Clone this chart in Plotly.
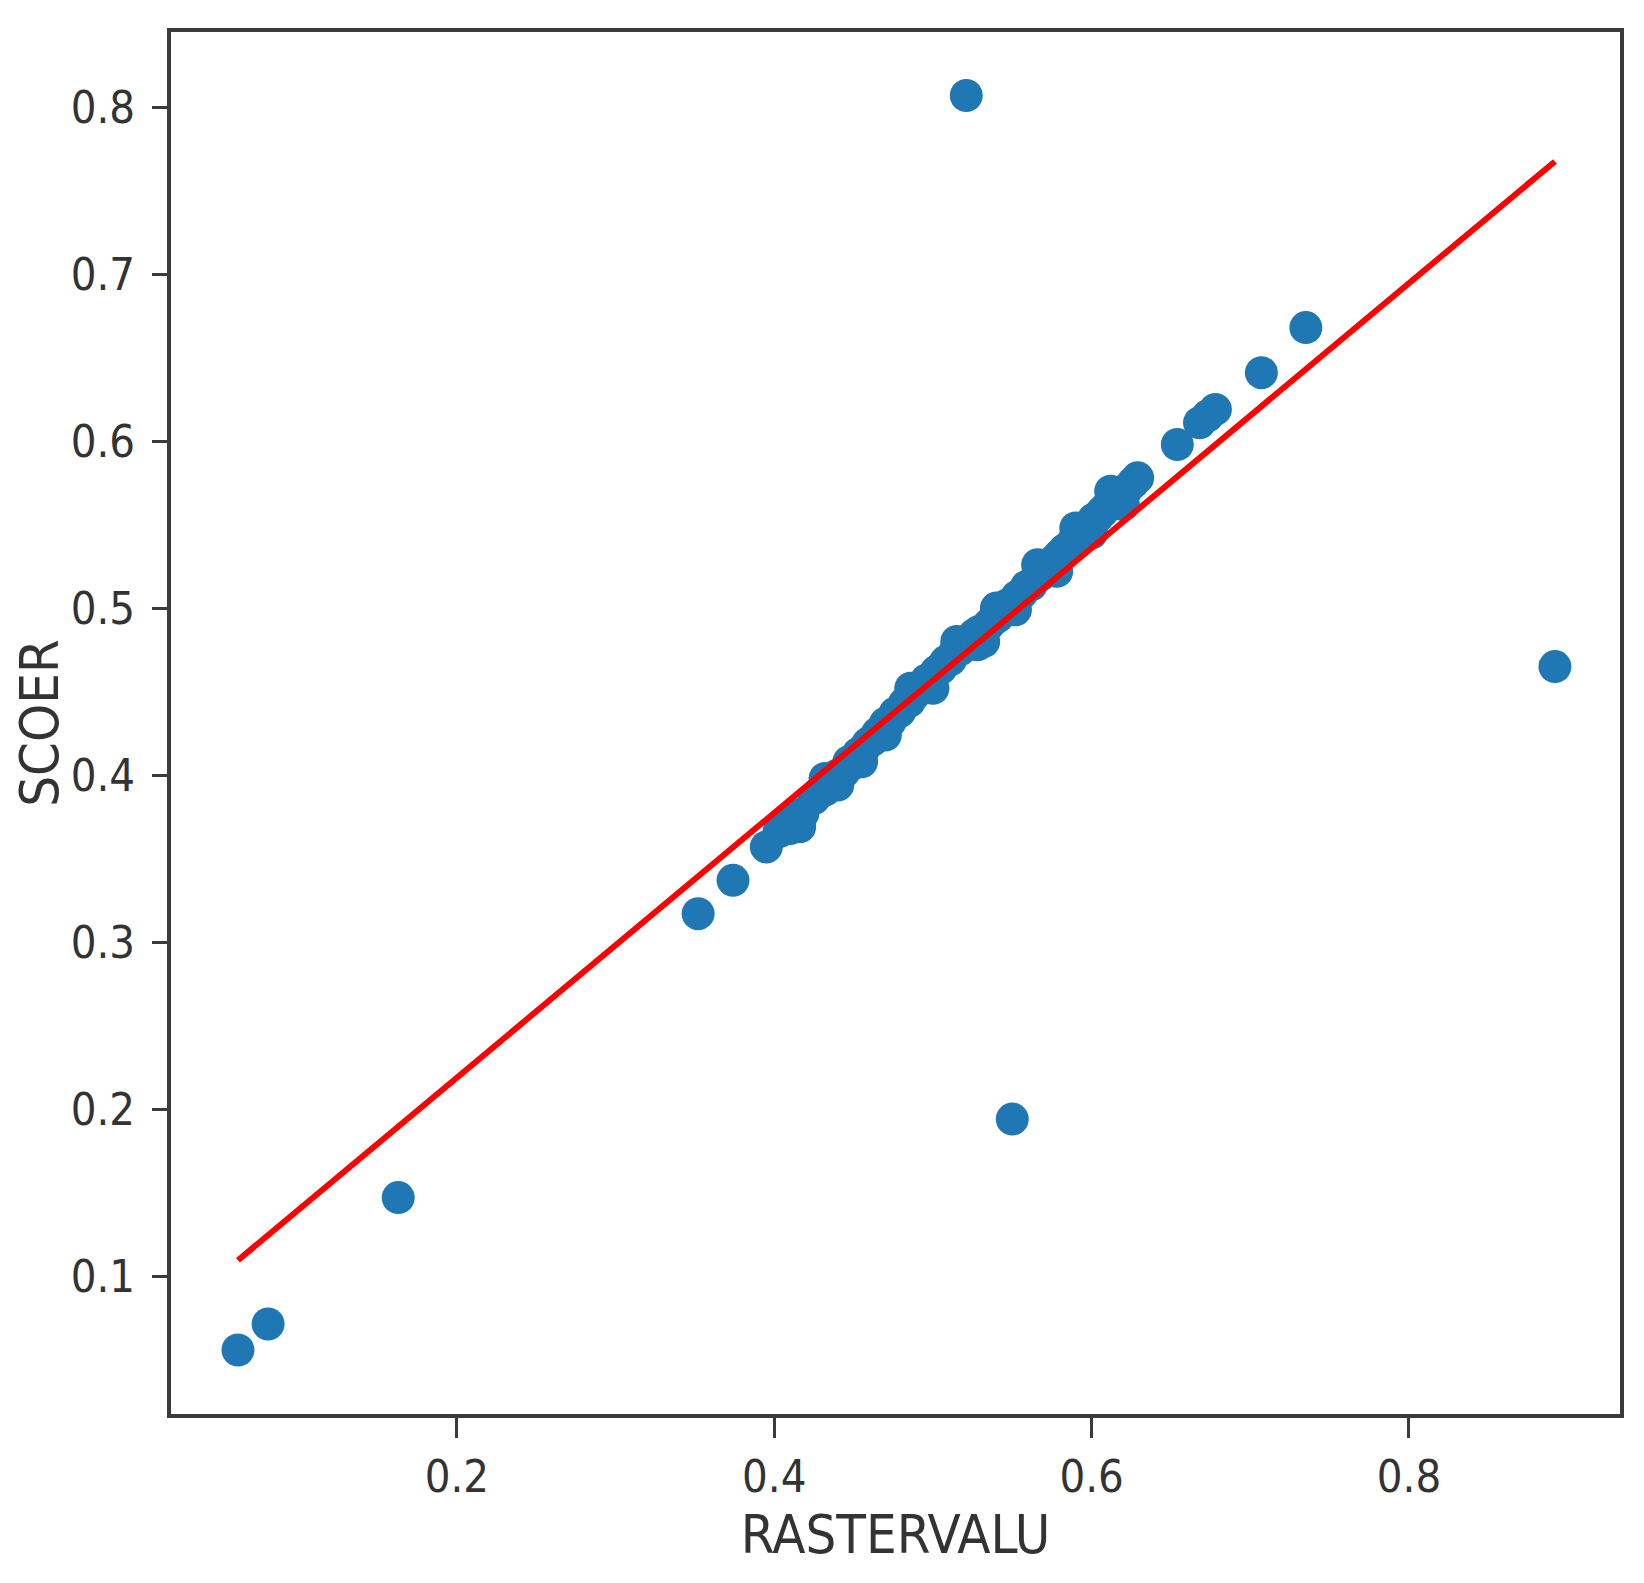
import numpy as np
import plotly.graph_objects as go

# RASTERVALU / SCOER sample points
raster_valu = [
    0.062, 0.081, 0.163, 0.352, 0.374,
    0.395, 0.403, 0.407, 0.410, 0.413, 0.418, 0.425, 0.428, 0.432, 0.436,
    0.440, 0.444, 0.447, 0.450, 0.453, 0.456, 0.459, 0.462, 0.465, 0.468,
    0.470, 0.473, 0.476, 0.479, 0.482, 0.485, 0.488, 0.490, 0.493, 0.496,
    0.499, 0.502, 0.505, 0.508, 0.511, 0.514, 0.517, 0.520, 0.523, 0.526,
    0.529, 0.532, 0.535, 0.538, 0.541, 0.544, 0.547, 0.550, 0.553, 0.556,
    0.559, 0.562, 0.565, 0.568, 0.571, 0.574, 0.577, 0.580, 0.583, 0.586,
    0.589, 0.592, 0.595, 0.598, 0.601, 0.604, 0.607, 0.610, 0.613, 0.616,
    0.619, 0.622, 0.626, 0.629,
    0.416, 0.432, 0.440, 0.455, 0.470, 0.486, 0.500, 0.515, 0.528, 0.540,
    0.552, 0.566, 0.578, 0.590, 0.600, 0.612, 0.620,
    0.654, 0.668, 0.673, 0.678, 0.707, 0.735,
    0.521, 0.550, 0.892,
]
scoer = [
    0.0557, 0.0713, 0.147, 0.317, 0.337,
    0.357, 0.366, 0.371, 0.368, 0.374, 0.377, 0.386, 0.389, 0.391, 0.396,
    0.400, 0.402, 0.408, 0.407, 0.413, 0.415, 0.419, 0.421, 0.425, 0.427,
    0.431, 0.432, 0.437, 0.438, 0.443, 0.444, 0.448, 0.451, 0.452, 0.457,
    0.458, 0.462, 0.464, 0.468, 0.469, 0.474, 0.475, 0.479, 0.479, 0.484,
    0.486, 0.480, 0.490, 0.493, 0.495, 0.499, 0.502, 0.503, 0.507, 0.509,
    0.513, 0.514, 0.518, 0.520, 0.524, 0.526, 0.529, 0.532, 0.535, 0.537,
    0.541, 0.543, 0.547, 0.549, 0.553, 0.555, 0.558, 0.561, 0.563, 0.566,
    0.569, 0.571, 0.575, 0.578,
    0.369, 0.398, 0.394, 0.408, 0.424, 0.452, 0.452, 0.480, 0.478, 0.500,
    0.499, 0.526, 0.522, 0.548, 0.545, 0.570, 0.562,
    0.598, 0.611, 0.615, 0.619, 0.641, 0.668,
    0.807, 0.194, 0.465,
]

# fitted line
fit_slope = 0.7928
fit_intercept = 0.0603

x_ticks = [0.2, 0.4, 0.6, 0.8]
y_ticks = [0.1, 0.2, 0.3, 0.4, 0.5, 0.6, 0.7, 0.8]

x_arr = np.array(raster_valu)
fit_x = np.array([x_arr.min(), x_arr.max()])
fit_y = fit_slope * fit_x + fit_intercept

font_family = "DejaVu Sans Condensed, DejaVu Sans, sans-serif"
axis_color = "#3a3a3a"

fig = go.Figure()

fig.add_trace(go.Scatter(x=raster_valu, y=scoer, mode='markers',
                         marker=dict(color='#1f77b4', size=33, line=dict(width=0)),
                         showlegend=False))

fig.add_trace(go.Scatter(x=fit_x, y=fit_y, mode='lines',
                         line=dict(color='#ff0000', width=6),
                         showlegend=False))

fig.update_layout(width=1644, height=1583,
                  margin=dict(l=163, r=32, t=24, b=177),
                  plot_bgcolor='white', paper_bgcolor='white',
                  font=dict(family=font_family, size=45, color='#333333'))

fig.update_xaxes(range=[0.0198, 0.933], tickvals=x_ticks,
                 ticktext=[f"{v:.1f}" for v in x_ticks],
                 showgrid=False, zeroline=False, automargin=False,
                 showline=True, linecolor=axis_color, linewidth=4, mirror=True,
                 ticks='outside', ticklen=20, tickwidth=3, tickcolor=axis_color,
                 title=dict(text='RASTERVALU', standoff=12),
                 tickfont=dict(size=45))

fig.update_yaxes(range=[0.0174, 0.845], tickvals=y_ticks,
                 ticktext=[f"{v:.1f}" for v in y_ticks],
                 showgrid=False, zeroline=False, automargin=False,
                 showline=True, linecolor=axis_color, linewidth=4, mirror=True,
                 ticks='outside', ticklen=15, tickwidth=3, tickcolor=axis_color,
                 ticklabelstandoff=8,
                 title=dict(text='SCOER', standoff=22),
                 tickfont=dict(size=45))

fig.write_html("out.html")
